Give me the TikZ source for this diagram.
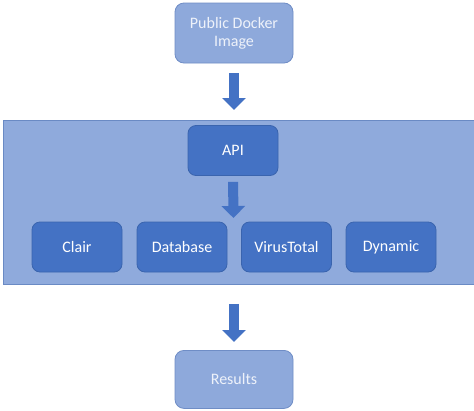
\documentclass[tikz,border=0pt]{standalone}
\usepackage{fontspec}
\setmainfont{Carlito}
\usetikzlibrary{arrows.meta,positioning}
\definecolor{lightbox}{HTML}{8EA9DB}
\definecolor{lightedge}{HTML}{6F8DC6}
\definecolor{panelfill}{HTML}{8FAADC}
\definecolor{paneledge}{HTML}{6A8AC4}
\definecolor{darkbox}{HTML}{4472C4}
\definecolor{darkedge}{HTML}{3A64AE}
\definecolor{lighttext}{HTML}{EEF2FA}
\begin{document}
\begin{tikzpicture}[x=1pt,y=1pt,
  outerbox/.style={draw=lightedge,fill=lightbox,rounded corners=9pt,line width=0.8pt,
    minimum width=118pt,minimum height=60pt,text=lighttext,font=\fontsize{16}{18}\selectfont,align=center},
  innerbox/.style={draw=darkedge,fill=darkbox,rounded corners=8pt,line width=0.8pt,
    minimum width=90pt,minimum height=50pt,text=white,font=\fontsize{16}{18}\selectfont},
  blockarrow/.style={draw=darkbox,line width=10pt,-{Triangle[width=23pt,length=12pt]}}]
\useasboundingbox (0,0) rectangle (474,-410);
\fill[white] (0,0) rectangle (474,-410);
% panel
\node[draw=paneledge,fill=panelfill,line width=0.8pt,minimum width=480pt,minimum height=164pt,
  anchor=north west,inner sep=0pt] (panel) at (3,-120) {};
\node[outerbox] (pub) at (234,-33) {Public Docker\\Image};
\node[innerbox] (api) at (233,-150.5) {API};
\node[innerbox] (clair) at (77,-247) {Clair};
\node[innerbox] (db) at (182,-247) {Database};
\node[innerbox] (vt) at (286.5,-247) {VirusTotal};
\node[innerbox] (dyn) at (391,-247) {Dynamic};
\node[outerbox,minimum height=58pt,anchor=north] (res) at (234,-350) {Results};
\coordinate (a2end) at (233.5,-218);
\draw[blockarrow,shorten <=10pt,shorten >=10pt] (pub.south) -- (pub.south |- panel.north);
\draw[blockarrow,shorten <=6pt] (api.south) -- (a2end);
\draw[blockarrow,shorten <=19pt,shorten >=8pt] (res.north |- panel.south) -- (res.north);
\end{tikzpicture}
\end{document}
